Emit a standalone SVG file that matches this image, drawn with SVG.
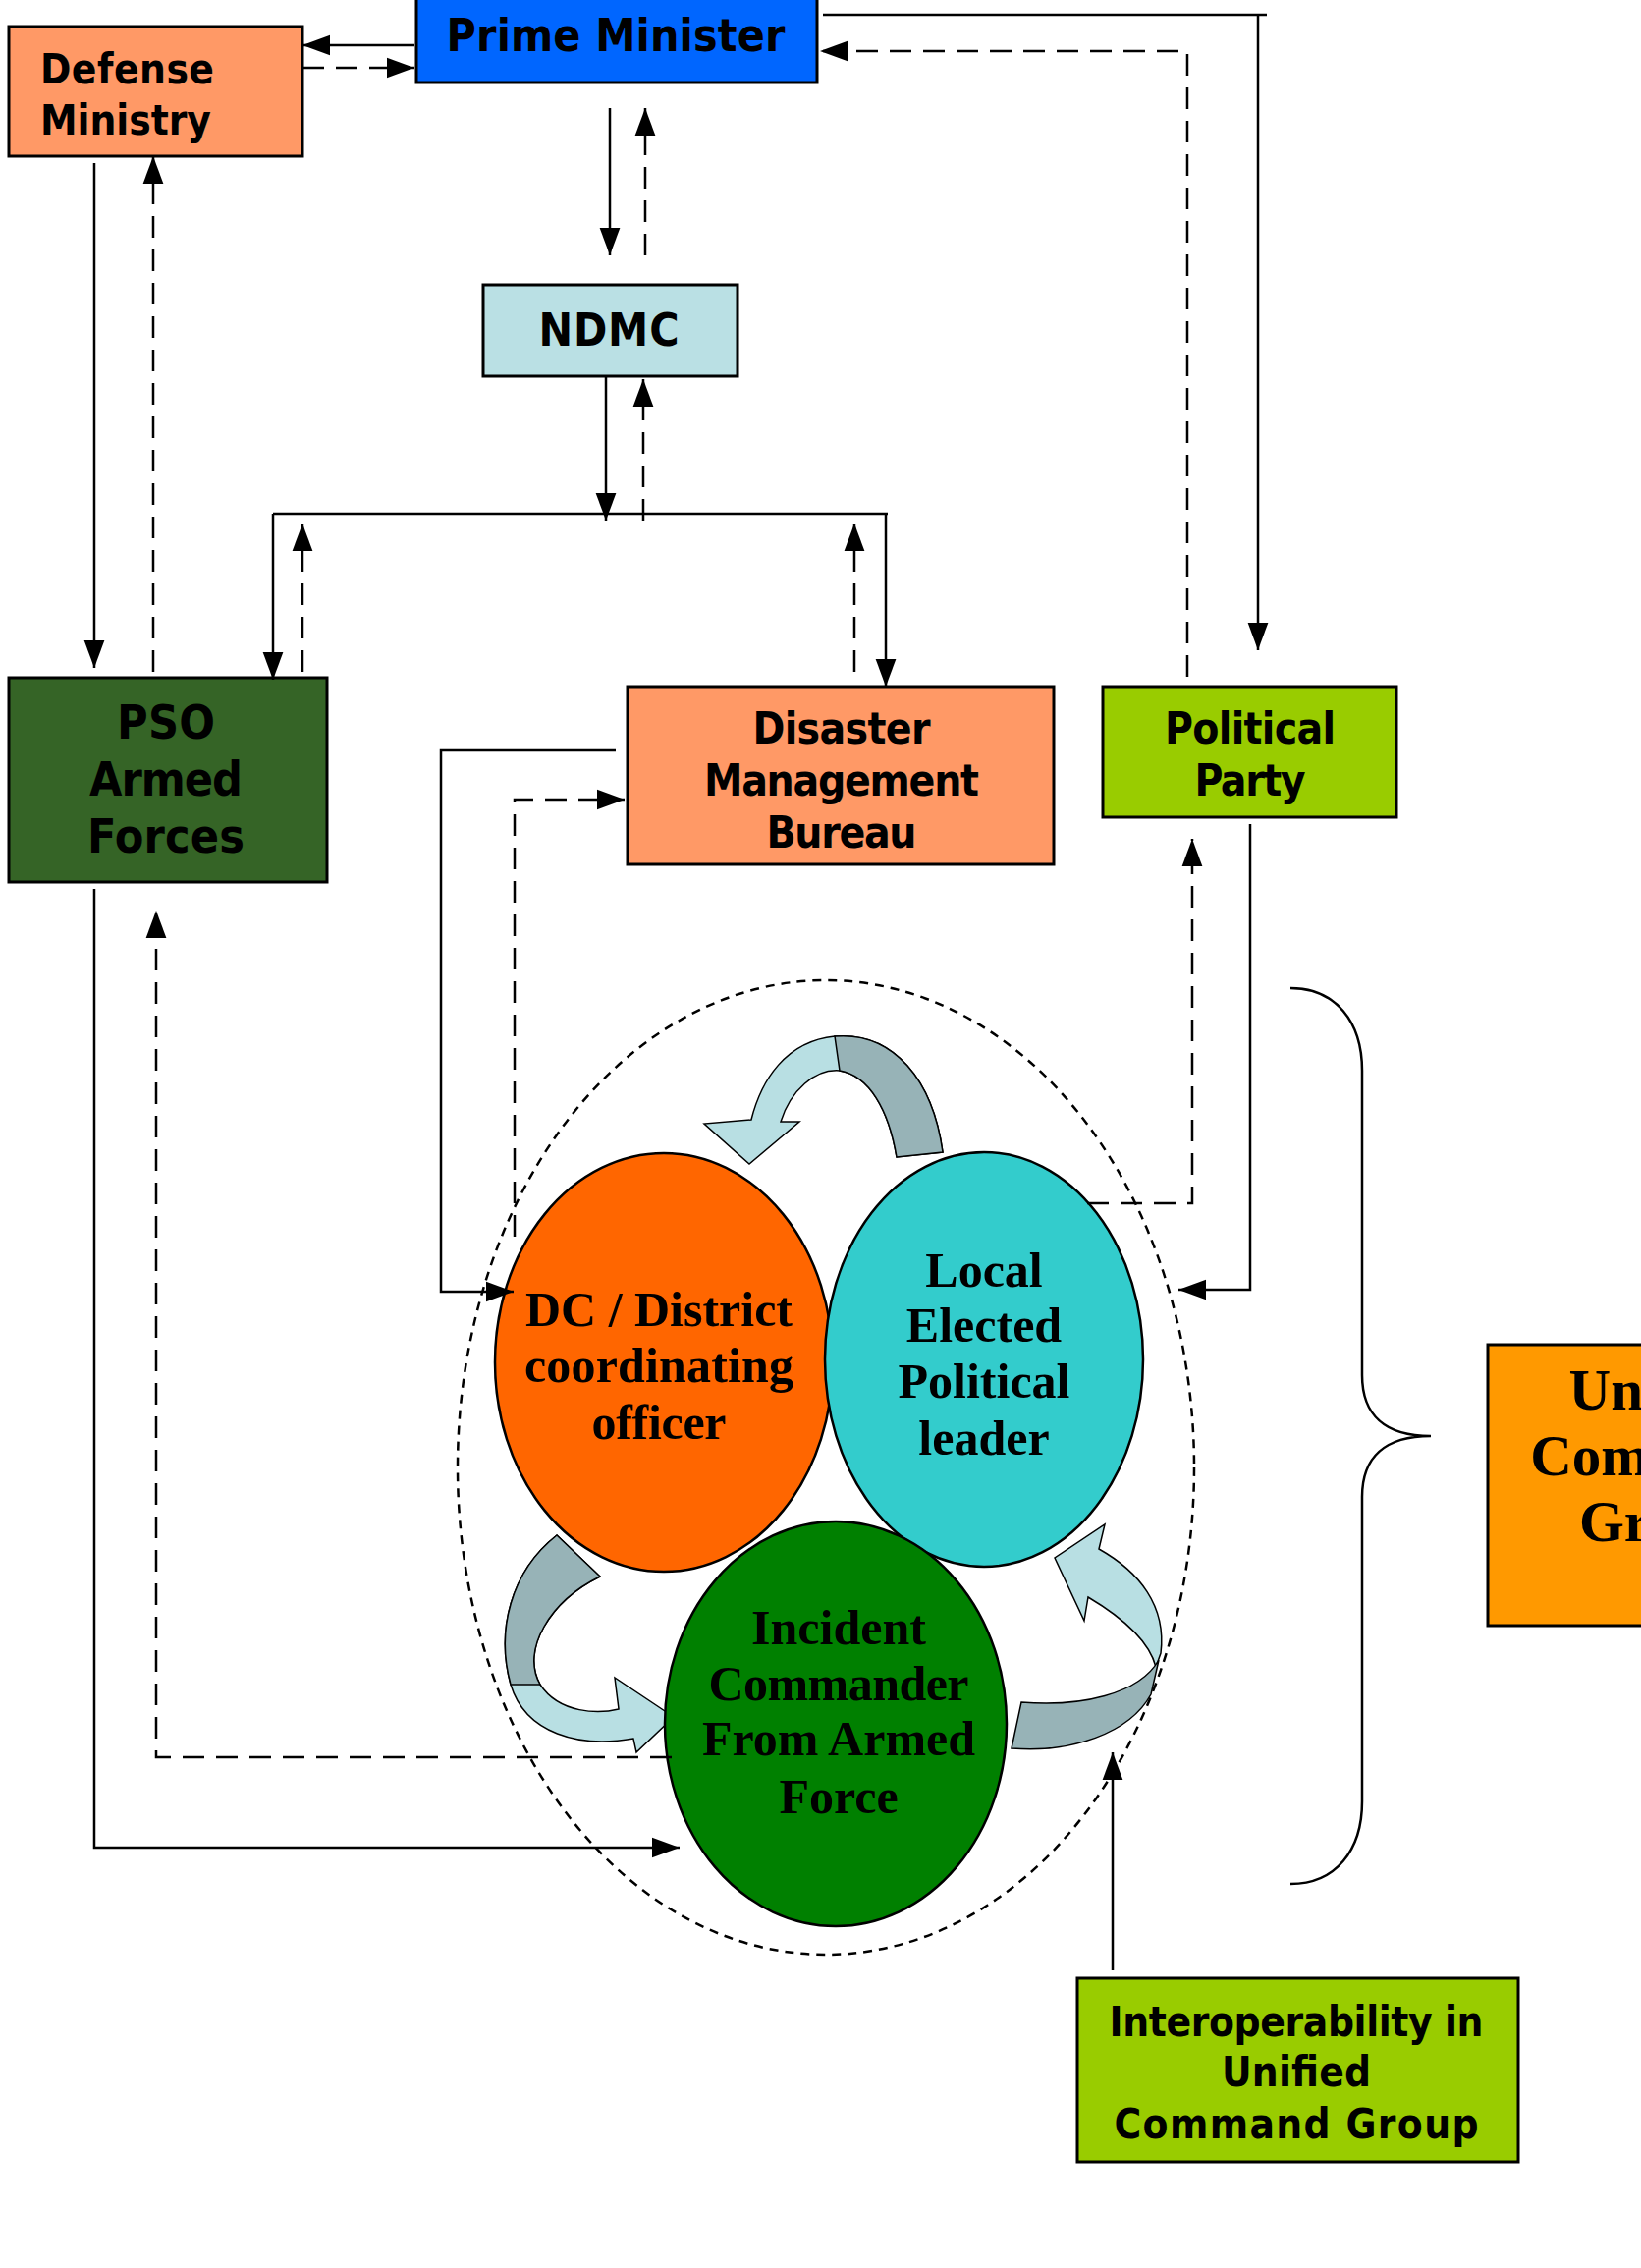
<svg xmlns="http://www.w3.org/2000/svg" width="1671" height="2309" viewBox="0 0 1671 2309">
<defs>
<marker id="a" viewBox="0 0 10 10" refX="10" refY="5" markerWidth="28" markerHeight="28" markerUnits="userSpaceOnUse" orient="auto"><path d="M0,1.3 L10,5 L0,8.7 Z" fill="#000"/></marker>
<style>
.box{stroke:#000;stroke-width:3}
.t{font-family:"DejaVu Sans Condensed","DejaVu Sans",sans-serif;font-weight:bold;fill:#000;text-anchor:middle}
.s{font-family:"Liberation Serif",serif;font-weight:bold;fill:#000;text-anchor:middle;font-size:50px}
.c{fill:none;stroke:#000;stroke-width:2.5}
.d{fill:none;stroke:#000;stroke-width:2.5;stroke-dasharray:22,12}
.el{stroke:#000;stroke-width:2.5}
</style>
</defs>
<rect width="1671" height="2309" fill="#fff"/>
<g id="ucg"><rect class="box" x="1515" y="1369" width="170" height="286" fill="#ff9900"/>
<text class="s" style="font-size:59px" x="1691" y="1435">Unified</text>
<text class="s" style="font-size:59px" x="1691" y="1502">Command</text>
<text class="s" style="font-size:59px" x="1691" y="1569">Group</text></g>
<g id="brace"><path class="c" d="M1314 1006 C1360 1006 1387 1040 1387 1090 L1387 1400 C1387 1440 1410 1462 1457 1462 C1410 1462 1387 1484 1387 1524 L1387 1834 C1387 1884 1360 1918 1314 1918"/></g>
<g id="outer"><ellipse cx="841" cy="1494" rx="375" ry="496" fill="none" stroke="#000" stroke-width="2.5" stroke-dasharray="9,7"/></g>
<g id="curved">
<path d="M960 1173 C950 1100 910 1050 850 1055 C800 1060 775 1100 765 1140 L717 1144 L763 1185 L814 1142 L795 1142 C805 1110 830 1088 855 1090 C885 1095 905 1130 913 1178 Z" fill="#b8dfe3" stroke="#000" stroke-width="1.5"/>
<path d="M960 1173 C950 1100 910 1050 850 1055 L855 1090 C885 1095 905 1130 913 1178 Z" fill="#97b3b7" stroke="#000" stroke-width="1.5"/>
<path d="M567 1563 L611 1605 C560 1630 530 1680 550 1715 C570 1745 610 1745 630 1740 L626 1708 L686 1748 L648 1784 L645 1770 C590 1780 535 1765 520 1715 C505 1660 520 1600 567 1563 Z" fill="#b8dfe3" stroke="#000" stroke-width="1.5"/>
<path d="M567 1563 L611 1605 C560 1630 530 1680 550 1715 L520 1715 C505 1660 520 1600 567 1563 Z" fill="#97b3b7" stroke="#000" stroke-width="1.5"/>
<path d="M1119 1577 L1125 1552 L1074 1586 L1104 1650 L1108 1626 C1140 1645 1170 1670 1177 1697 L1182 1683 C1188 1635 1160 1600 1119 1577 Z" fill="#b8dfe3" stroke="#000" stroke-width="1.5"/>
<path d="M1040 1733 C1100 1738 1160 1725 1180 1690 L1172 1725 C1150 1765 1090 1785 1030 1780 Z" fill="#97b3b7" stroke="#000" stroke-width="1.5"/>
</g>
<g id="dc"><ellipse class="el" cx="676" cy="1387" rx="172" ry="213" fill="#ff6600"/>
<text class="s" x="671" y="1350" textLength="272">DC / District</text>
<text class="s" x="671" y="1407" textLength="274">coordinating</text>
<text class="s" x="671" y="1465" textLength="137">officer</text></g>
<g id="local"><ellipse class="el" cx="1002" cy="1384" rx="162" ry="211" fill="#33cccc"/>
<text class="s" x="1002" y="1310">Local</text>
<text class="s" x="1002" y="1366">Elected</text>
<text class="s" x="1002" y="1423">Political</text>
<text class="s" x="1002" y="1481">leader</text></g>
<g id="incident"><ellipse class="el" cx="851" cy="1755" rx="174" ry="206" fill="#008000"/>
<text class="s" x="854" y="1674">Incident</text>
<text class="s" x="854" y="1731" textLength="265">Commander</text>
<text class="s" x="854" y="1787" textLength="278">From Armed</text>
<text class="s" x="854" y="1846">Force</text></g>
<g id="pm"><rect class="box" x="424" y="-3" width="408" height="87" fill="#0066ff"/>
<text class="t" x="627" y="52" font-size="46" textLength="345">Prime Minister</text></g>
<g id="defense"><rect class="box" x="9" y="27" width="299" height="132" fill="#ff9966"/>
<text class="t" x="41" y="85" font-size="42" style="text-anchor:start" textLength="177">Defense</text>
<text class="t" x="41" y="137" font-size="42" style="text-anchor:start" textLength="174">Ministry</text></g>
<g id="ndmc"><rect class="box" x="492" y="290" width="259" height="93" fill="#bae0e4"/>
<text class="t" x="620" y="352" font-size="46" textLength="143">NDMC</text></g>
<g id="pso"><rect class="box" x="9" y="690" width="324" height="208" fill="#356426"/>
<text class="t" x="169" y="752" font-size="48" textLength="100">PSO</text>
<text class="t" x="169" y="810" font-size="48" textLength="156">Armed</text>
<text class="t" x="169" y="868" font-size="48" textLength="160">Forces</text></g>
<g id="dmb"><rect class="box" x="639" y="699" width="434" height="181" fill="#ff9966"/>
<text class="t" x="857" y="757" font-size="44" textLength="181">Disaster</text>
<text class="t" x="857" y="810" font-size="44" textLength="280">Management</text>
<text class="t" x="857" y="863" font-size="44" textLength="153">Bureau</text></g>
<g id="party"><rect class="box" x="1123" y="699" width="299" height="133" fill="#99cc00"/>
<text class="t" x="1273" y="757" font-size="44" textLength="174">Political</text>
<text class="t" x="1273" y="810" font-size="44" textLength="113">Party</text></g>
<g id="interop"><rect class="box" x="1097" y="2014" width="449" height="187" fill="#99cc00"/>
<text class="t" x="1320" y="2073" font-size="42" textLength="381">Interoperability in</text>
<text class="t" x="1320" y="2124" font-size="42" textLength="152">Unified</text>
<text class="t" x="1320" y="2177" font-size="42" textLength="371">Command Group</text></g>
<g id="connectors">
<path class="c" d="M422 46 H308" marker-end="url(#a)"/>
<path class="d" d="M308 69 H422" marker-end="url(#a)"/>
<path class="c" d="M838 15 H1290 M1281 15 V662" marker-end="url(#a)"/>
<path class="d" d="M1209 689 V52 H835" marker-end="url(#a)"/>
<path class="c" d="M621 110 V260" marker-end="url(#a)"/>
<path class="d" d="M657 260 V110" marker-end="url(#a)"/>
<path class="c" d="M617 383 V530" marker-end="url(#a)"/>
<path class="c" d="M278 523 H904"/>
<path class="d" d="M655 530 V386" marker-end="url(#a)"/>
<path class="c" d="M278 523 V692" marker-end="url(#a)"/>
<path class="d" d="M308 684 V533" marker-end="url(#a)"/>
<path class="c" d="M902 523 V699" marker-end="url(#a)"/>
<path class="d" d="M870 684 V533" marker-end="url(#a)"/>
<path class="c" d="M96 166 V680" marker-end="url(#a)"/>
<path class="d" d="M156 684 V159" marker-end="url(#a)"/>
<path class="c" d="M96 905 V1881 H692" marker-end="url(#a)"/>
<path class="d" d="M684 1789 H159 V927" marker-end="url(#a)"/>
<path class="c" d="M627 764 H449 V1315 H523" marker-end="url(#a)"/>
<path class="d" d="M524 1259 V814 H636" marker-end="url(#a)"/>
<path class="c" d="M1273 839 V1313 H1200" marker-end="url(#a)"/>
<path class="d" d="M1107 1225 H1214 V854" marker-end="url(#a)"/>
<path class="c" d="M1133 2006 V1784" marker-end="url(#a)"/>
</g>
</svg>
